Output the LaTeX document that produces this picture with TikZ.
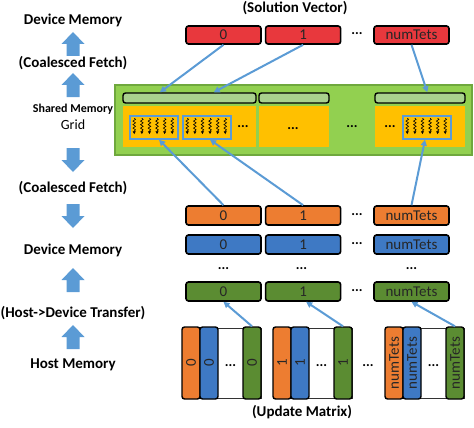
\documentclass[tikz,border=0pt]{standalone}
\usepackage{fontspec}
\setmainfont{Carlito}
\usetikzlibrary{positioning}
\usetikzlibrary{arrows.meta, calc, decorations.pathmorphing}
\definecolor{colSol}{HTML}{E8383D}
\definecolor{colOrange}{HTML}{ED7D31}
\definecolor{colBlue}{HTML}{3E79C4}
\definecolor{colGreen}{HTML}{5B8C32}
\definecolor{colGrid}{HTML}{92D050}
\definecolor{strokeGrid}{HTML}{6FA83D}
\definecolor{colHeader}{HTML}{A9D18E}
\definecolor{colBlock}{HTML}{FFC000}
\definecolor{colLink}{HTML}{5B9BD5}

\begin{document}
\begin{tikzpicture}[
				x=1pt, y=-1pt,
				font=\fontsize{15}{17}\selectfont,
				% Node Styles
				memtext/.style={font=\bfseries\fontsize{15}{17}\selectfont, inner sep=1pt},
				blockup/.pic={\fill[colLink] (-6.5,12) -- (-6.5,0) -- (-11.5,0) -- (0,-12) -- (11.5,0) -- (6.5,0) -- (6.5,12) -- cycle;},
				cellbase/.style={draw=black, line width=1.6pt, rounded corners=2.5pt, inner sep=0pt, minimum width=75pt, text=black!85},
				solcell/.style={cellbase, fill=colSol, minimum height=18pt},
				rowcell/.style={cellbase, minimum height=19pt},
				ellip/.style={font=\bfseries\fontsize{14}{14}\selectfont, inner sep=0pt},
				gridbox/.style={fill=colGrid, draw=strokeGrid, line width=1.5pt, inner sep=0pt},
				hdrbar/.style={fill=colHeader, draw=black, line width=1.4pt, rounded corners=2.5pt, minimum height=10pt, inner sep=0pt},
				blockbox/.style={fill=colBlock, inner sep=0pt, minimum height=41pt},
				thrbox/.style={draw=colLink, line width=1.5pt, fill=colBlock, minimum width=48pt, minimum height=23pt, inner sep=0pt},
				thread/.style={-{Latex[length=3pt,width=3.5pt]}, line width=0.6pt, decorate, decoration={snake, amplitude=1.3pt, segment length=3.5pt, post length=3pt}},
				colbar/.style={draw=black, line width=1.4pt, rounded corners=2.5pt, rotate=90, minimum width=72pt, minimum height=18pt, inner sep=0pt, text=black!85},
				matframe/.style={draw=black!80, line width=1pt, fill=white, minimum width=79pt, minimum height=70pt, inner sep=0pt},
				link/.style={-{Triangle[length=6pt,width=6pt]}, line width=2pt, colLink}
				]
				\useasboundingbox (0,0) rectangle (474,428);
				
				%% ================= LEFT: MEMORY LEVELS =================
				\node[memtext] (devtop) at (73,20) {Device Memory};
				\pic (upa) at (73,44) {blockup};
				\node[memtext] (fetchtop) at (73,63) {(Coalesced Fetch)};
				\pic (upb) at (73,85) {blockup};
				\node[align=center, inner sep=0pt] (shared) at (73,117) {{\bfseries\fontsize{12}{19}\selectfont Shared Memory}\\{\fontsize{14}{19}\selectfont Grid}};
				\pic[rotate=180] (downa) at (73,160) {blockup};
				\node[memtext] (fetchbot) at (73,188) {(Coalesced Fetch)};
				\pic[rotate=180] (downb) at (73,216) {blockup};
				\node[memtext] (devbot) at (73,250) {Device Memory};
				\pic (upc) at (73,280) {blockup};
				\node[memtext] (transfer) at (73,313) {(Host->Device Transfer)};
				\pic (upd) at (73,337) {blockup};
				\node[memtext] (host) at (73,365) {Host Memory};
				
				%% ================= SOLUTION VECTOR =================
				\node[memtext] (soltitle) at (295,8) {(Solution Vector)};
				\node[solcell] (sol0) at (223.5,35) {0};
				\node[solcell, right=3pt of sol0] (sol1) {1};
				\node[ellip] (soldots) at (357,34) {...};
				\node[solcell] (solN) at (411.5,35) {numTets};
				
				%% ================= SHARED MEMORY GRID =================
				\node[gridbox, minimum width=357pt, minimum height=70pt] (grid) at (293.5,120) {};
				\node[hdrbar, minimum width=133pt] (hdra) at (189.5,98) {};
				\node[hdrbar, minimum width=70pt] (hdrb) at (294,98) {};
				\node[hdrbar, minimum width=90pt] (hdrc) at (420,98) {};
				\node[blockbox, minimum width=133pt] (blka) at (189.5,126.5) {};
				\node[blockbox, minimum width=70pt] (blkb) at (294,126.5) {};
				\node[blockbox, minimum width=90pt] (blkc) at (420,126.5) {};
				\node[thrbox] (thra) at (154,127.5) {};
				\node[thrbox] (thrb) at (207,127.5) {};
				\node[thrbox] (thrc) at (427,127.5) {};
				\node[ellip] (dotsa) at (243,127) {...};
				\node[ellip] (dotsb) at (293,129) {...};
				\node[ellip] (dotsgrid) at (352,127) {...};
				\node[ellip] (dotsc) at (390,127) {...};
				
				% Threads
				\foreach \tb in {thra, thrb, thrc}
				\foreach \i in {0,...,5}
				\draw[thread] ($(\tb.north west)+(5+7.6*\i,3)$) -- ++(0,16);
				
				%% ================= DEVICE ROWS =================
				\node[rowcell, fill=colOrange] (org0) at (223.5,215.5) {0};
				\node[rowcell, fill=colOrange, right=3pt of org0] (org1) {1};
				\node[ellip] (orgdots) at (357,215) {...};
				\node[rowcell, fill=colOrange] (orgN) at (411.5,215.5) {numTets};
				
				\node[rowcell, fill=colBlue] (blu0) at (223.5,244.5) {0};
				\node[rowcell, fill=colBlue, right=3pt of blu0] (blu1) {1};
				\node[ellip] (bludots) at (357,244) {...};
				\node[rowcell, fill=colBlue] (bluN) at (411.5,244.5) {numTets};
				
				\node[ellip] (vdots0) at (223.5,269) {...};
				\node[ellip] (vdots1) at (301.5,269) {...};
				\node[ellip] (vdotsN) at (411.5,269) {...};
				
				\node[rowcell, fill=colGreen] (grn0) at (223.5,291.5) {0};
				\node[rowcell, fill=colGreen, right=3pt of grn0] (grn1) {1};
				\node[ellip] (grndots) at (357,291) {...};
				\node[rowcell, fill=colGreen] (grnN) at (411.5,291.5) {numTets};
				
				%% ================= UPDATE MATRIX =================
				\foreach \gx/\lbl/\nm in {182/0/a, 273/1/b, 385/numTets/c} {
					\node[matframe] (frame\nm) at (\gx+39.5,363) {};
					\node[colbar, fill=colOrange] (mato\nm) at (\gx+9,363) {\lbl};
					\node[colbar, fill=colBlue] (matb\nm) at (\gx+27,363) {\lbl};
					\node[colbar, fill=colGreen] (matg\nm) at (\gx+70,363) {\lbl};
					\node[ellip] (matdots\nm) at (\gx+48.5,366) {...};
				}
				\node[ellip] (matdots) at (368,366) {...};
				\node[memtext] (mattitle) at (302,412) {(Update Matrix)};
				
				% Edges
				\draw[link] (sol0.south) -- ($(hdra.north west)!0.28!(hdra.north east)$);
				\draw[link] (sol1.south) -- ($(hdra.north west)!0.68!(hdra.north east)$);
				\draw[link] (solN.south) -- ($(hdrc.north west)!0.58!(hdrc.north east)$);
				
				\draw[link] (org0.north) -- ([xshift=5pt]thra.south);
				\draw[link] (org1.north) -- ([xshift=3pt]thrb.south);
				\draw[link] (orgN.north) -- ([xshift=-2pt]thrc.south);
				
				\draw[link] (matga.east) -- (grn0.south);
				\draw[link] (matgb.east) -- ([xshift=3pt]grn1.south);
				\draw[link] (matgc.east) -- (grnN.south);
				
			\end{tikzpicture}
\end{document}
